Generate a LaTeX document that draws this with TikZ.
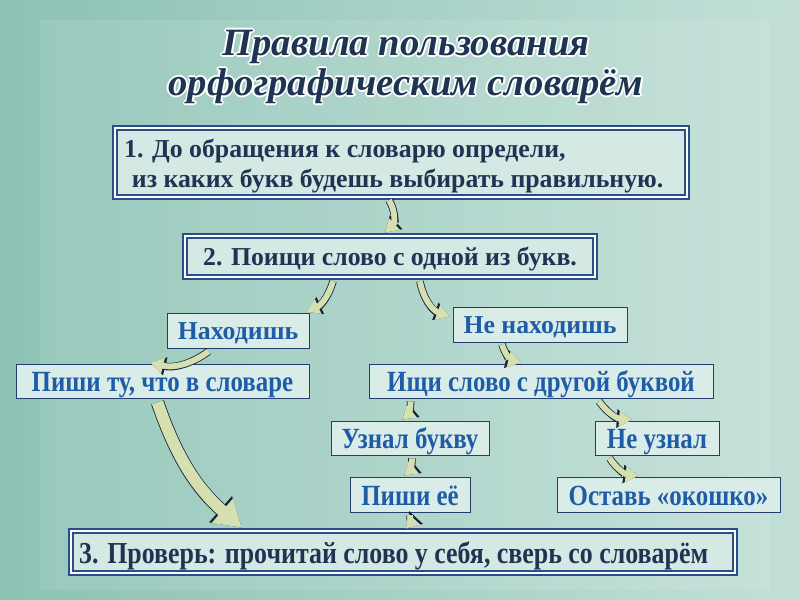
\documentclass[tikz,border=0pt]{standalone}
\usepackage{fontspec}
\setmainfont{Liberation Serif}
\newfontfamily\condf[FakeStretch=0.85]{Liberation Serif}
\usetikzlibrary{arrows.meta,calc}
\definecolor{navy}{HTML}{1E3452}
\definecolor{bluetxt}{HTML}{1F5CA8}
\definecolor{bord}{HTML}{2A4E8A}
\definecolor{arr}{HTML}{D6DFB0}
\definecolor{bgA}{HTML}{8CC2B4}
\definecolor{bgB}{HTML}{C2E0D8}
\begin{document}
\begin{tikzpicture}[x=0.03cm,y=-0.03cm,
  bigbox/.style={draw=bord,line width=2.2pt,double=white,double distance=1pt,fill=bgB!70,inner sep=0pt,text=navy,font=\bfseries\fontsize{22}{25}\selectfont,text height=18pt,text depth=2pt},
  smallbox/.style={draw=bord!80!black,line width=0.6pt,fill=bgB!60,inner sep=0pt,text=bluetxt,font=\bfseries\fontsize{22}{25}\selectfont,text height=18pt,text depth=2pt},
  condbox/.style={smallbox,font=\condf\bfseries\fontsize{25}{28}\selectfont,text height=20pt,text depth=2pt},
  ttl/.style={font=\bfseries\itshape\fontsize{33}{34}\selectfont,align=center}]
\useasboundingbox (0,0) rectangle (800,600);
\shade[left color=bgA,right color=bgB] (0,0) rectangle (800,600);
\fill[white,opacity=0.1] (40,20) rectangle (770,590);
% title
\foreach \dx/\dy in {1.5/0,-1.5/0,0/1.5,0/-1.5,1.1/1.1,-1.1/-1.1,1.1/-1.1,-1.1/1.1}{
  \node[ttl,text=white] at ([xshift=\dx pt,yshift=\dy pt]406,67) {Правила пользования\\орфографическим словарём};}
\node (title) [ttl,text=navy] at (406,67) {Правила пользования\\орфографическим словарём};
% boxes
\node (b1) [bigbox,minimum width=572*0.03cm,minimum height=69*0.03cm] at (401,162.5) {};
\node [text=navy,font=\bfseries\fontsize{22}{25}\selectfont,align=left,anchor=west,inner sep=0pt] at (124,166) {1. До обращения к словарю определи,\\ \hspace*{0.3em}из каких букв будешь выбирать правильную.};
\node (b2) [bigbox,minimum width=410*0.03cm,minimum height=41*0.03cm] at (390,256.5) {2. Поищи слово с одной из букв.};
\node (n1) [smallbox,minimum width=142*0.03cm,minimum height=35*0.03cm] at (238,330.5) {Находишь};
\node (n2) [smallbox,minimum width=174*0.03cm,minimum height=35*0.03cm] at (540,324.5) {Не находишь};
\node (p1) [condbox,minimum width=293*0.03cm,minimum height=34*0.03cm] at (162.5,381) {Пиши ту, что в словаре};
\node (i1) [condbox,minimum width=344*0.03cm,minimum height=34*0.03cm] at (541,381) {Ищи слово с другой буквой};
\node (u1) [condbox,minimum width=158*0.03cm,minimum height=34*0.03cm] at (410,438) {Узнал букву};
\node (u2) [condbox,minimum width=124*0.03cm,minimum height=34*0.03cm] at (657,438) {Не узнал};
\node (w1) [condbox,minimum width=120*0.03cm,minimum height=35*0.03cm] at (410,494.5) {Пиши её};
\node (w2) [condbox,minimum width=223*0.03cm,minimum height=35*0.03cm] at (668.5,494.5) {Оставь «окошко»};
\node (b3) [bigbox,minimum width=664*0.03cm,minimum height=42*0.03cm] at (403,552) {};
\node [text=navy,font=\condf\bfseries\fontsize{26}{28}\selectfont,anchor=west,inner sep=0pt,text height=20pt,text depth=2pt] at (79,553) {3. Проверь: прочитай слово у себя, сверь со словарём};
% arrows
\newcommand\carrow[4]{%
 \draw[navy!70!black,line width=#4+1.4pt,-{Triangle[length=#4*2.2+2pt,width=#4*2.6+2pt]}] #1 to[#3] #2;
 \draw[arr,line width=#4,-{Triangle[length=#4*2.2,width=#4*2.6]}] #1 to[#3] #2;}
\carrow{($(b1.south)+(-12,2)$)}{($(b2.north)+(-5,-2)$)}{bend left=40}{5pt}
\carrow{($(b2.south)+(-57,3)$)}{($(n1.north east)+(-3,-1)$)}{bend left=25}{5pt}
\carrow{($(b2.south)+(30,3)$)}{($(n2.west)+(-3,-8)$)}{bend right=30}{5pt}
\carrow{($(n1.south west)+(42,3)$)}{($(p1.north)+(-12,-1)$)}{bend left=25}{5pt}
\carrow{($(n2.south)+(-38,2)$)}{($(i1.north)+(-20,-1)$)}{bend right=30}{5pt}
\carrow{($(p1.south)+(-5,4)$)}{($(b3.north west)+(172,-2)$)}{bend right=15}{10pt}
\carrow{($(i1.south west)+(42,3)$)}{($(u1.north)+(-8,-1)$)}{bend left=25}{5pt}
\carrow{($(i1.south)+(58,3)$)}{($(u2.north)+(-25,-1)$)}{bend right=25}{5pt}
\carrow{($(u1.south)+(2,3)$)}{($(w1.north)+(-6,-1)$)}{bend left=25}{5pt}
\carrow{($(u2.south west)+(15,3)$)}{($(w2.north)+(-30,-1)$)}{bend right=25}{5pt}
\carrow{($(w1.south)+(0,3)$)}{($(b3.north west)+(336,-1)$)}{bend left=25}{5pt}
\end{tikzpicture}
\end{document}
